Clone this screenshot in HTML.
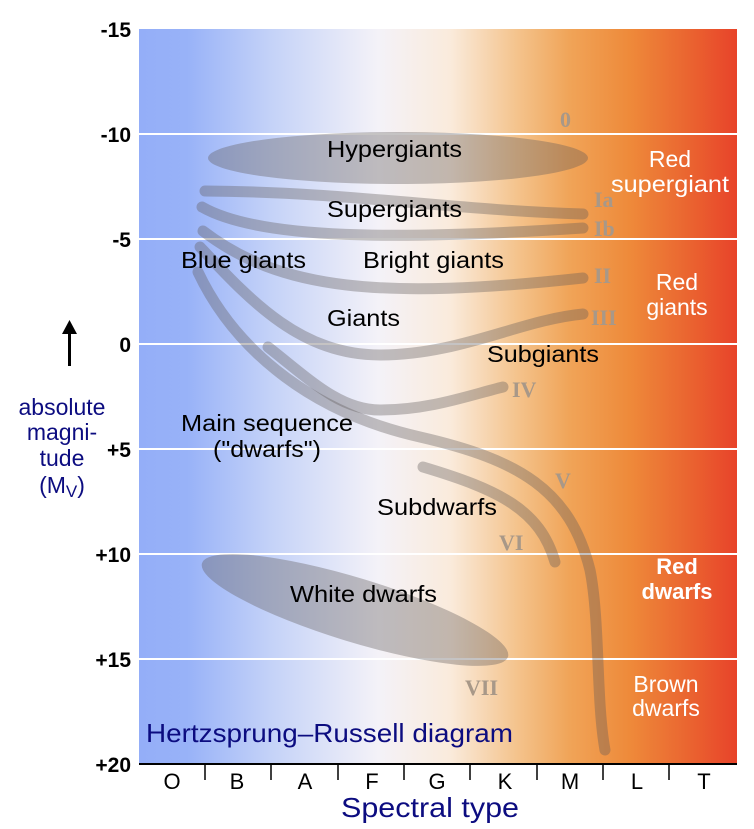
<!DOCTYPE html>
<html><head><meta charset="utf-8"><style>
body{margin:0;background:#fff;}
svg{display:block;font-family:"Liberation Sans",sans-serif;}
</style></head><body>
<svg width="754" height="829" viewBox="0 0 754 829">
<defs>
<linearGradient id="bg" x1="139" x2="737" y1="0" y2="0" gradientUnits="userSpaceOnUse">
<stop offset="0" stop-color="#94aef8"/>
<stop offset="0.08" stop-color="#98b2f8"/>
<stop offset="0.22" stop-color="#c4d2f8"/>
<stop offset="0.40" stop-color="#f4f2f8"/>
<stop offset="0.52" stop-color="#faebdc"/>
<stop offset="0.63" stop-color="#f4c48e"/>
<stop offset="0.72" stop-color="#f0a458"/>
<stop offset="0.82" stop-color="#ee8a3a"/>
<stop offset="0.92" stop-color="#ea6430"/>
<stop offset="1" stop-color="#e8432a"/>
</linearGradient>
</defs>
<rect x="139" y="29" width="598" height="735" fill="url(#bg)"/>
<g stroke="#fff" stroke-width="2">
<line x1="139" x2="737" y1="134" y2="134"/><line x1="139" x2="737" y1="239" y2="239"/>
<line x1="139" x2="737" y1="344" y2="344"/><line x1="139" x2="737" y1="449" y2="449"/>
<line x1="139" x2="737" y1="554" y2="554"/><line x1="139" x2="737" y1="659" y2="659"/>
</g>
<g fill="rgba(95,90,90,0.36)">
<ellipse cx="398" cy="158" rx="190" ry="26"/>
<ellipse cx="355" cy="610" rx="160" ry="32" transform="rotate(17 355 610)"/>
</g>
<g fill="none" stroke="rgba(95,90,90,0.36)" stroke-width="11" stroke-linecap="round">
<path d="M205,191 C350,192 450,210 583,214"/>
<path d="M202,207 C260,240 400,240 583,228"/>
<path d="M203,231 C280,290 380,300 583,278"/>
<path d="M200,247 C250,300 300,355 380,355 S520,320 583,314"/>
<path d="M198,272 C230,340 300,410 420,437 C520,460 570,490 590,570 C600,620 596,700 605,750"/>
<path d="M268,347 C310,380 340,410 380,410 C430,410 470,395 503,387"/>
<path d="M423,467 C500,490 540,510 555,562"/>
</g>
<g font-family="'Liberation Serif',serif" font-weight="bold" font-size="22" fill="#a89888">
<text x="560" y="127">0</text><text x="594" y="207">Ia</text><text x="594" y="236">Ib</text>
<text x="594" y="283">II</text><text x="591" y="325">III</text><text x="512" y="397">IV</text>
<text x="555" y="488">V</text><text x="499" y="550">VI</text><text x="465" y="695">VII</text>
</g>
<g font-size="23" fill="#000" lengthAdjust="spacingAndGlyphs">
<text x="327" y="157" textLength="135" lengthAdjust="spacingAndGlyphs">Hypergiants</text>
<text x="327" y="217" textLength="135" lengthAdjust="spacingAndGlyphs">Supergiants</text>
<text x="181" y="268" textLength="125" lengthAdjust="spacingAndGlyphs">Blue giants</text>
<text x="363" y="268" textLength="141" lengthAdjust="spacingAndGlyphs">Bright giants</text>
<text x="327" y="326" textLength="73" lengthAdjust="spacingAndGlyphs">Giants</text>
<text x="487" y="362" textLength="112" lengthAdjust="spacingAndGlyphs">Subgiants</text>
<text x="181" y="431" textLength="172" lengthAdjust="spacingAndGlyphs">Main sequence</text>
<text x="213" y="457" textLength="108" lengthAdjust="spacingAndGlyphs">("dwarfs")</text>
<text x="377" y="515" textLength="120" lengthAdjust="spacingAndGlyphs">Subdwarfs</text>
<text x="290" y="602" textLength="147" lengthAdjust="spacingAndGlyphs">White dwarfs</text>
</g>
<g font-size="23" fill="#fff" text-anchor="middle">
<text x="670" y="167">Red</text><text x="670" y="192" textLength="118" lengthAdjust="spacingAndGlyphs">supergiant</text>
<text x="677" y="290">Red</text><text x="677" y="315">giants</text>
<text x="677" y="574" font-weight="bold" font-size="22">Red</text><text x="677" y="599" font-weight="bold" font-size="22">dwarfs</text>
<text x="666" y="692">Brown</text><text x="666" y="716">dwarfs</text>
</g>
<text x="146" y="742" font-size="26" fill="#0c0c80" textLength="367" lengthAdjust="spacingAndGlyphs">Hertzsprung–Russell diagram</text>
<g font-size="21" font-weight="bold" text-anchor="end" fill="#000">
<text x="131" y="37">-15</text><text x="131" y="142">-10</text><text x="131" y="247">-5</text>
<text x="131" y="352">0</text><text x="131" y="457">+5</text><text x="131" y="562">+10</text>
<text x="131" y="667">+15</text><text x="131" y="772">+20</text>
</g>
<line x1="139" x2="737" y1="764" y2="764" stroke="#000" stroke-width="2"/>
<g stroke="#000" stroke-width="1.5">
<line x1="205" x2="205" y1="764" y2="780"/><line x1="271" x2="271" y1="764" y2="780"/>
<line x1="338" x2="338" y1="764" y2="780"/><line x1="404" x2="404" y1="764" y2="780"/>
<line x1="470" x2="470" y1="764" y2="780"/><line x1="537" x2="537" y1="764" y2="780"/>
<line x1="603" x2="603" y1="764" y2="780"/><line x1="669" x2="669" y1="764" y2="780"/>
</g>
<g font-size="22" text-anchor="middle" fill="#000">
<text x="172" y="789">O</text><text x="237" y="789">B</text><text x="305" y="789">A</text>
<text x="372" y="789">F</text><text x="437" y="789">G</text><text x="505" y="789">K</text>
<text x="570" y="789">M</text><text x="637" y="789">L</text><text x="704" y="789">T</text>
</g>
<text x="430" y="817" font-size="28" text-anchor="middle" fill="#0c0c80" textLength="178" lengthAdjust="spacingAndGlyphs">Spectral type</text>
<g fill="#000"><rect x="68" y="330" width="3" height="36"/><path d="M62,334 L69.5,320 L77,334 Z"/></g>
<g font-size="23" text-anchor="middle" fill="#0c0c80">
<text x="62" y="415">absolute</text><text x="62" y="440">magni-</text><text x="62" y="466">tude</text>
<text x="62" y="493">(M<tspan font-size="17" dy="4">V</tspan><tspan dy="-4">)</tspan></text>
</g>
</svg>
</body></html>
